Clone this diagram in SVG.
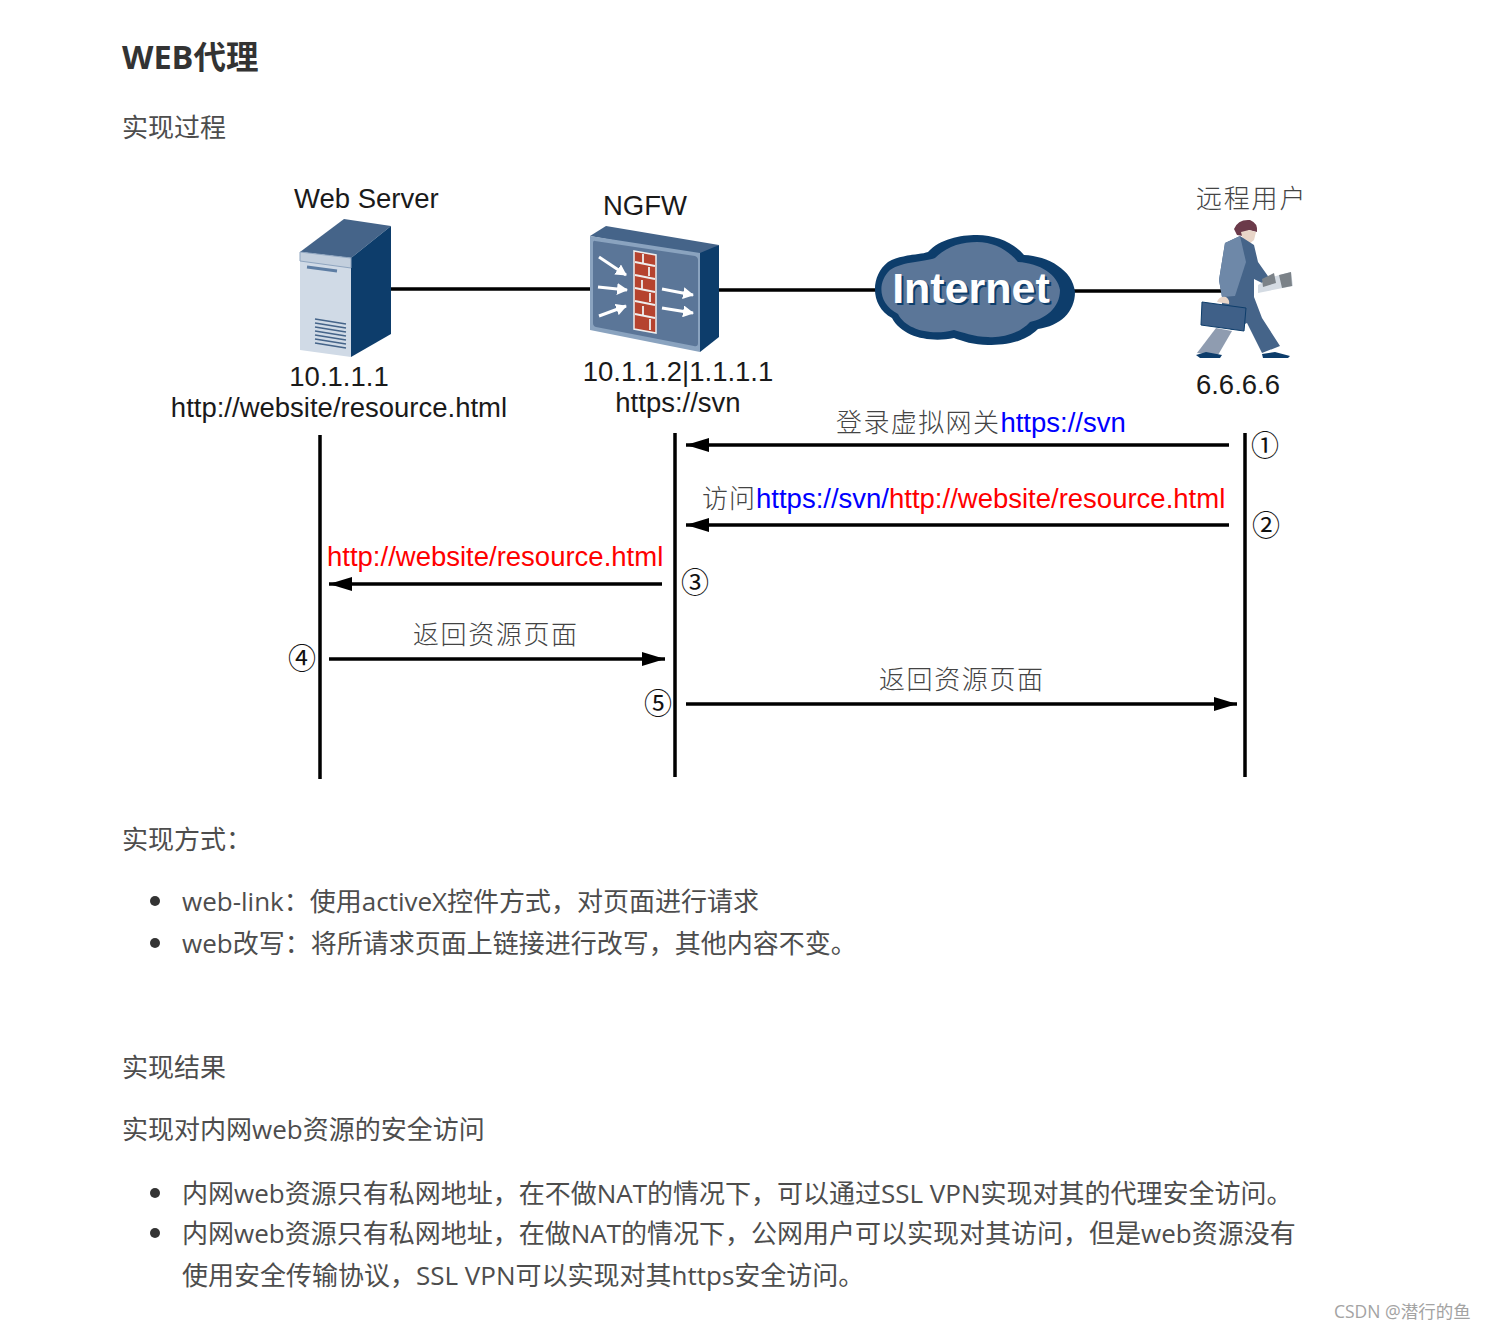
<svg xmlns="http://www.w3.org/2000/svg" width="1486" height="1330" viewBox="0 0 1486 1330">
<style>
.b{font-family:"Open Sans","Noto Sans CJK SC",sans-serif;font-size:26px;fill:#4d4d4d}
.h{font-family:"Open Sans","Noto Sans CJK SC",sans-serif;font-size:32.5px;font-weight:700;fill:#333}
.l{font-family:"Liberation Sans","Noto Sans CJK SC",sans-serif;font-size:27.5px;fill:#1a1a1a}
.z{font-family:"Noto Sans CJK SC",sans-serif;font-size:26px;font-weight:300;fill:#444}
.r{fill:#ff0000}.u{fill:#0000ff}
.c{font-family:"Noto Sans CJK SC",sans-serif;font-size:28px;fill:#111;text-anchor:middle}
.ln{stroke:#000;stroke-width:3.5;fill:none}
.ar{stroke:#fff;stroke-width:3;fill:none;marker-end:url(#wa)}
.it{font-family:"Liberation Sans",sans-serif;font-size:43px;font-weight:700;text-anchor:middle}
</style>
<defs>
<marker id="a" markerUnits="userSpaceOnUse" markerWidth="24" markerHeight="14" refX="23" refY="7" orient="auto-start-reverse"><path d="M0 0L23 7L0 14Z" fill="#000"/></marker>
<marker id="wa" markerUnits="userSpaceOnUse" markerWidth="12" markerHeight="12" refX="10" refY="6" orient="auto"><path d="M0 0L11 6L0 12Z" fill="#fff"/></marker>
</defs>
<rect width="1486" height="1330" fill="#fff"/>
<text class="h" x="122" y="68.500">WEB代理</text>
<text class="b" x="122" y="136.500">实现过程</text>

<g id="connectors">
<path class="ln" d="M390 289H592M718 290H878M1074 291H1225"/>
<path class="ln" d="M320 435V779M675 433V777M1245 433V777"/>
<path class="ln" d="M1229 445H686" marker-end="url(#a)"/>
<path class="ln" d="M1229 525H686" marker-end="url(#a)"/>
<path class="ln" d="M662 584H329" marker-end="url(#a)"/>
<path class="ln" d="M329 659H665" marker-end="url(#a)"/>
<path class="ln" d="M686 704H1237" marker-end="url(#a)"/>
</g>

<g id="web-server">
<text class="l" x="294" y="208">Web Server</text>
<path d="M300 252L344 219L391 226L351 258Z" fill="#456489"/>
<path d="M351 258L391 226V334L351 357Z" fill="#0d3d6b"/>
<path d="M300 252L351 258V357L300 350Z" fill="#d0dae6"/>
<path d="M300 252L351 258V268L300 261Z" fill="#c3cfdd" stroke="#8fa5bf"/>
<path d="M307 267L337 271" stroke="#5d7da3" stroke-width="3"/>
<path d="M315 319L346 324M315 323L346 328M315 327L346 332M315 331L346 336M315 335L346 340M315 339L346 344M315 343L346 348" stroke="#456489" stroke-width="1.6"/>
<text class="l" x="339" y="386" text-anchor="middle">10.1.1.1</text>
<text class="l" x="339" y="417" text-anchor="middle">http://website/resource.html</text>
</g>

<g id="ngfw">
<text class="l" x="645" y="215" text-anchor="middle">NGFW</text>
<path d="M590 236L606 226L719 245L700 256Z" fill="#456489"/>
<path d="M700 253L719 245V337L700 352Z" fill="#0d3d6b"/>
<path d="M590 236L700 253V352L590 330Z" fill="#8aa3bf"/>
<path d="M595 241L695 256Q698 257 698 260V343Q698 347 694 346L596 327Q593 326 593 323V244Q593 240 595 241Z" fill="#5b7698"/>
<path d="M634 251L656 255V333L634 329Z" fill="#b5432f" stroke="#eee" stroke-width="1.5"/>
<path d="M635 262L655 266M635 275L655 279M635 288L655 292M635 301L655 305M635 314L655 318M643 254V263M649 267V276M642 280V289M650 293V302M643 306V315M650 319V330" stroke="#eee" stroke-width="1.8" fill="none"/>
<path class="ar" d="M599 257L626 275"/>
<path class="ar" d="M598 287L627 290"/>
<path class="ar" d="M599 316L626 306"/>
<path class="ar" d="M662 289L693 295"/>
<path class="ar" d="M662 308L693 313"/>
<text class="l" x="678" y="381" text-anchor="middle">10.1.1.2|1.1.1.1</text>
<text class="l" x="678" y="412" text-anchor="middle">https://svn</text>
</g>

<g id="internet">
<path d="M892 318C870 306 870 276 888 262C902 254 920 255 928 252C940 239 960 235 977 235C996 235 1014 243 1024 255C1048 256 1073 270 1075 292C1075 312 1060 326 1038 329C1024 343 1004 345 988 345C974 345 962 341 954 338C930 343 902 337 892 318Z" fill="#0d3d6b"/>
<path d="M898 314C878 304 877 282 890 270C903 261 925 262 935 258C947 246 962 242 977 242C994 242 1008 250 1018 262C1040 263 1058 275 1060 290C1060 308 1045 319 1030 322C1018 335 1000 338 988 337C974 337 962 332 954 330C932 336 906 330 898 314Z" fill="#5b7698"/>
<text class="it" x="973" y="305" fill="#0d3d6b">Internet</text>
<text class="it" x="971" y="303" fill="#fff">Internet</text>
</g>

<g id="remote-user">
<text class="z" x="1196" y="208" style="letter-spacing:1.8px">远程用户</text>
<path d="M1234 229Q1238 219 1250 220Q1258 223 1257 232L1249 230L1243 236L1237 235Z" fill="#6b3a4a"/>
<path d="M1241 232L1249 230L1256 232L1254 240L1248 245L1243 240Z" fill="#e8d5c8"/>
<path d="M1225 243L1240 236L1254 245L1258 262L1270 279L1266 285L1254 279L1254 297L1262 318L1280 346L1262 353L1247 323L1232 330L1222 325L1222 297L1219 280Z" fill="#456489"/>
<path d="M1225 243L1240 236L1246 262L1235 296L1222 297L1219 280Z" fill="#6e88a8"/>
<path d="M1197 353L1216 328L1232 331L1218 355Z" fill="#8f9cb0"/>
<path d="M1196 355L1206 352L1222 355L1220 358H1200Z" fill="#0d3d6b"/>
<path d="M1262 354L1275 352L1290 356L1288 358H1263Z" fill="#0d3d6b"/>
<path d="M1202 302L1246 308L1244 331L1201 325Z" fill="#3f6088" stroke="#0d3d6b"/>
<path d="M1217 302Q1219 296 1226 297Q1230 300 1229 304Z" fill="#e8d5c8"/>
<path d="M1258 293L1293 286L1291 272L1272 277L1258 285Z" fill="#d4dbe3"/>
<path d="M1263 287L1276 283L1274 273L1262 279ZM1279 275L1291 272L1292 286L1282 288Z" fill="#7b8288"/>
<text class="l" x="1238" y="394" text-anchor="middle">6.6.6.6</text>
</g>

<g id="labels">
<text class="z" x="836" y="432" style="letter-spacing:1.4px">登录虚拟网关<tspan class="l u" style="letter-spacing:0">https://svn</tspan></text>
<text class="z" x="702" y="508" style="letter-spacing:1px">访问<tspan class="l u" style="letter-spacing:0">https://svn/</tspan><tspan class="l r" style="letter-spacing:0">http://website/resource.html</tspan></text>
<text class="l r" x="327" y="566">http://website/resource.html</text>
<text class="z" x="413" y="644" style="letter-spacing:1.6px">返回资源页面</text>
<text class="z" x="879" y="689" style="letter-spacing:1.6px">返回资源页面</text>
<text class="c" x="1265" y="456">①</text>
<text class="c" x="1266" y="536">②</text>
<text class="c" x="695" y="593">③</text>
<text class="c" x="302" y="669">④</text>
<text class="c" x="658" y="714">⑤</text>
</g>

<g id="text-body">
<text class="b" x="122" y="848.500">实现方式：</text>
<circle cx="155" cy="901" r="5" fill="#333"/>
<text class="b" x="182" y="910.500">web-link：使用activeX控件方式，对页面进行请求</text>
<circle cx="155" cy="943" r="5" fill="#333"/>
<text class="b" x="182" y="952.500">web改写：将所请求页面上链接进行改写，其他内容不变。</text>
<text class="b" x="122" y="1076.500">实现结果</text>
<text class="b" x="122" y="1138.500">实现对内网web资源的安全访问</text>
<circle cx="155" cy="1193" r="5" fill="#333"/>
<text class="b" x="182" y="1202.500">内网web资源只有私网地址，在不做NAT的情况下，可以通过SSL VPN实现对其的代理安全访问。</text>
<circle cx="155" cy="1233" r="5" fill="#333"/>
<text class="b" x="182" y="1242.500">内网web资源只有私网地址，在做NAT的情况下，公网用户可以实现对其访问，但是web资源没有</text>
<text class="b" x="182" y="1284.500">使用安全传输协议，SSL VPN可以实现对其https安全访问。</text>
<text x="1334" y="1318" font-family="Open Sans,Noto Sans CJK SC,sans-serif" font-size="17.5" fill="#a3a3a3">CSDN @潜行的鱼</text>
</g>
</svg>
